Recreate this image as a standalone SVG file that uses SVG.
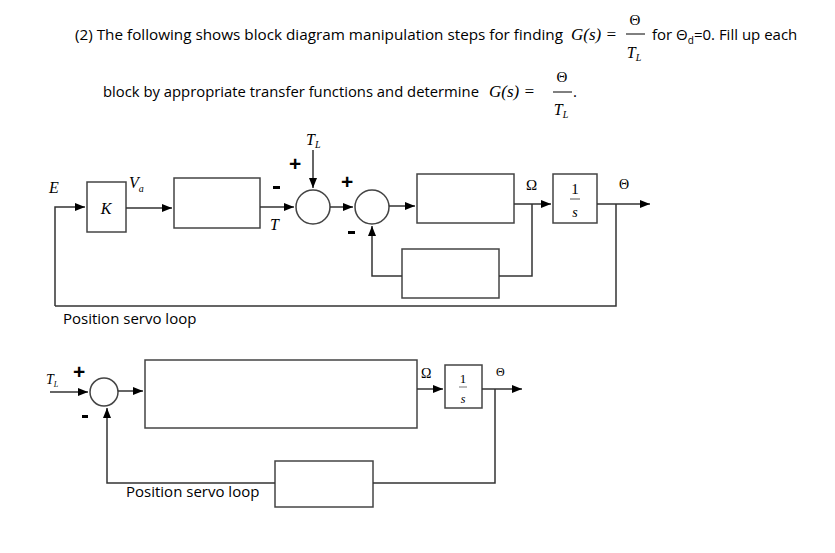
<svg xmlns="http://www.w3.org/2000/svg" width="835" height="553" viewBox="0 0 835 553">
<defs>
<marker id="ah" markerWidth="10" markerHeight="8" refX="10" refY="4" orient="auto" markerUnits="userSpaceOnUse"><path d="M0,0 L10,4 L0,8 Z" fill="#000"/></marker>
<style>
.b{fill:#fff;stroke:#444;stroke-width:1.5}
.c{fill:none;stroke:#333;stroke-width:1.5}
.s{font-family:"Open Sans","Liberation Sans",sans-serif;font-size:15px;fill:#000}
.m{font-family:"Liberation Serif",serif;font-style:italic;fill:#000}
.g{font-family:"Liberation Serif",serif;fill:#000}
.p{font-family:"Liberation Sans",sans-serif;font-weight:bold;font-size:21px;fill:#000}
.n{fill:#000}
</style>
</defs>
<rect width="835" height="553" fill="#fff"/>
<g id="title">
<text class="s" x="75" y="40" textLength="488" lengthAdjust="spacingAndGlyphs">(2) The following shows block diagram manipulation steps for finding</text>
<text class="m" x="571" y="40" font-size="17">G(s) =</text>
<text class="g" x="635" y="25" font-size="15" text-anchor="middle">Θ</text>
<line x1="626" y1="34" x2="645" y2="34" stroke="#000"/>
<text class="m" x="634" y="58" font-size="16" text-anchor="middle">T<tspan font-size="10" dy="3">L</tspan></text>
<text class="s" x="652" y="40">for Θ<tspan font-size="10" dy="4">d</tspan><tspan dy="-4">=0. Fill up each</tspan></text>
<text class="s" x="103" y="97" textLength="376" lengthAdjust="spacingAndGlyphs">block by appropriate transfer functions and determine</text>
<text class="m" x="489" y="97" font-size="17">G(s) =</text>
<text class="g" x="562" y="82" font-size="15" text-anchor="middle">Θ</text>
<line x1="553" y1="92" x2="572" y2="92" stroke="#000"/>
<text class="m" x="561" y="115" font-size="16" text-anchor="middle">T<tspan font-size="10" dy="3">L</tspan></text>
<text class="s" x="573" y="97">.</text>
</g>
<g id="top-K"><rect class="b" x="87" y="182" width="39" height="50"/><text class="m" x="106" y="214" font-size="16" text-anchor="middle">K</text></g>
<g id="top-box2"><rect class="b" x="174" y="178" width="86" height="50"/></g>
<g id="top-sum1"><circle class="b" cx="313" cy="207" r="17"/></g>
<g id="top-sum2"><circle class="b" cx="372" cy="207" r="17"/></g>
<g id="top-box3"><rect class="b" x="417" y="174" width="97" height="49"/></g>
<g id="top-int"><rect class="b" x="553" y="174" width="44" height="49"/><text class="g" x="575" y="194" font-size="15" text-anchor="middle">1</text><line x1="570" y1="199" x2="580" y2="199" stroke="#555"/><text class="m" x="575" y="217" font-size="14" text-anchor="middle">s</text></g>
<g id="top-fb"><rect class="b" x="402" y="249" width="97" height="49"/></g>
<g id="bot-sum"><circle class="b" cx="104" cy="392" r="14"/></g>
<g id="bot-big"><rect class="b" x="145" y="360" width="272" height="68"/></g>
<g id="bot-int"><rect class="b" x="445" y="365" width="37" height="43"/><text class="g" x="463" y="383" font-size="13" text-anchor="middle">1</text><line x1="459" y1="387" x2="467" y2="387" stroke="#777"/><text class="m" x="463" y="403" font-size="12" text-anchor="middle">s</text></g>
<g id="bot-fb"><rect class="b" x="275" y="461" width="98" height="46"/></g>
<g id="connectors">
<polyline class="c" points="55,306 55,207 85,207" marker-end="url(#ah)"/>
<polyline class="c" points="126,208 172,208" marker-end="url(#ah)"/>
<polyline class="c" points="260,207 294,207" marker-end="url(#ah)"/>
<polyline class="c" points="313,150 313,188" marker-end="url(#ah)"/>
<polyline class="c" points="330,207 353,207" marker-end="url(#ah)"/>
<polyline class="c" points="389,206 415,206" marker-end="url(#ah)"/>
<polyline class="c" points="514,204 551,204" marker-end="url(#ah)"/>
<polyline class="c" points="597,204 650,204" marker-end="url(#ah)"/>
<polyline class="c" points="532,204 532,276 499,276"/>
<polyline class="c" points="402,276 372,276 372,226" marker-end="url(#ah)"/>
<polyline class="c" points="616,204 616,306 55,306"/>
<polyline class="c" points="50,392 88,392" marker-end="url(#ah)"/>
<polyline class="c" points="118,391 143,391" marker-end="url(#ah)"/>
<polyline class="c" points="417,389 443,389" marker-end="url(#ah)"/>
<polyline class="c" points="482,389 522,389" marker-end="url(#ah)"/>
<polyline class="c" points="495,389 495,483 373,483"/>
<polyline class="c" points="275,483 107,483 107,408" marker-end="url(#ah)"/>
</g>
<g id="labels">
<text class="m" x="49" y="193" font-size="16">E</text>
<text class="m" x="129" y="188" font-size="16">V<tspan font-size="10" dy="4">a</tspan></text>
<rect class="n" x="273" y="186" width="7" height="3"/>
<text class="m" x="270" y="230" font-size="16">T</text>
<text class="m" x="306" y="145" font-size="16">T<tspan font-size="10" dy="3">L</tspan></text>
<text class="p" x="289" y="171">+</text>
<text class="p" x="341" y="189">+</text>
<rect class="n" x="348" y="231" width="7" height="3"/>
<text class="g" x="526" y="190" font-size="15">Ω</text>
<text class="g" x="619" y="189" font-size="14">Θ</text>
<text class="s" x="63" y="324" font-size="16">Position servo loop</text>
<text class="m" x="46" y="384" font-size="14">T<tspan font-size="8" dy="3">L</tspan></text>
<text class="p" x="73" y="379">+</text>
<rect class="n" x="82" y="415" width="6" height="3"/>
<text class="g" x="421" y="378" font-size="14">Ω</text>
<text class="g" x="496" y="376" font-size="12">Θ</text>
<text class="s" x="126" y="497" font-size="14">Position servo loop</text>
</g>
</svg>
